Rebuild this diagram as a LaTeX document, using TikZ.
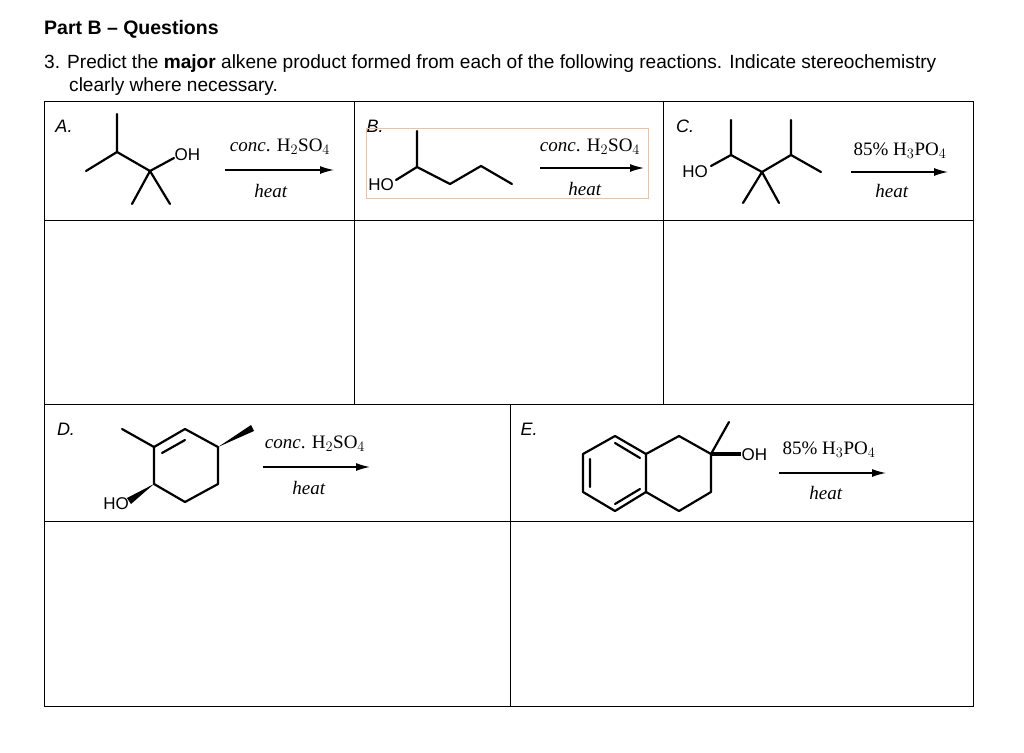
\documentclass[tikz,border=0pt]{standalone}
\usepackage{fontspec}
\setmainfont{Liberation Sans}
\newfontfamily\serfam{Liberation Serif}
\usetikzlibrary{arrows.meta}
\begin{document}
\begin{tikzpicture}[x=1pt,y=-1pt,
  bd/.style={line width=2.2pt,line cap=round,line join=round},
  grid/.style={line width=1pt},
  lab/.style={font=\fontsize{18}{20}\selectfont\itshape},
  atom/.style={font=\fontsize{17}{19}\selectfont,inner sep=0.5pt},
  reag/.style={font=\fontsize{19}{21}\selectfont\serfam},
  arr/.style={line width=1.4pt,-{Latex[length=14pt,width=8pt]}}]
\useasboundingbox (0,0) rectangle (1024,752);
\node[anchor=west,inner sep=0pt,font=\fontsize{19.5}{22}\selectfont\bfseries] (t1) at (44,29) {Part B -- Questions};
\node[anchor=west,inner sep=0pt,font=\fontsize{19.1}{22}\selectfont] (t2) at (44,64) {3. Predict the \textbf{major} alkene product formed from each of the following reactions. Indicate stereochemistry};
\node[anchor=west,inner sep=0pt,font=\fontsize{19.1}{22}\selectfont] (t3) at (69,87) {clearly where necessary.};
% grid
\draw[grid] (44,101) rectangle (973,706);
\draw[grid] (44,220)--(973,220) (44,404)--(973,404) (44,521)--(973,521);
\draw[grid] (354,101)--(354,404) (663,101)--(663,404) (510,404)--(510,706);
% labels
\node[lab] (la) at (64,126) {A.};
\node[lab] (lb) at (375,126) {B.};
\node[lab] (lc) at (685,126) {C.};
\node[lab] (ld) at (66,429) {D.};
\node[lab] (le) at (529,429) {E.};
% A
\draw[bd] (117,114)--(117,152)--(86,171) (117,152)--(150,171)--(174,158) (132,204)--(150,171)--(170,204);
\node[atom,anchor=west] (ohA) at (174,155) {OH};
\draw[arr] (225,170)--(334,170);
\node[reag] (rA1) at (280,147) {\textit{conc}. H$_2$SO$_4$};
\node[reag] (rA2) at (271,191) {\textit{heat}};
% B
\draw[line width=0.8pt,draw={rgb,255:red,240;green,190;blue,160}] (366,128) rectangle (648,198);
\draw[bd] (417,131)--(417,167)--(450,184)--(481,166)--(512,184) (417,167)--(396,180);
\node[atom] (hoB) at (381,185) {HO};
\draw[arr] (540,168)--(644,168);
\node[reag] (rB1) at (590,147) {\textit{conc}. H$_2$SO$_4$};
\node[reag] (rB2) at (585,189) {\textit{heat}};
% C
\draw[bd] (731,120)--(731,155)--(762,172)--(791,155)--(791,120) (791,155)--(821,172) (743,203)--(762,172)--(779,203) (731,155)--(711,166);
\node[atom] (hoC) at (695,172) {HO};
\draw[arr] (851,172)--(948,172);
\node[reag] (rC1) at (900,151) {85\% H$_3$PO$_4$};
\node[reag] (rC2) at (892,191) {\textit{heat}};
% D
\draw[bd] (154,447)--(185,429)--(218,447)--(218,484)--(185,502)--(154,484)--cycle;
\draw[bd] (122,429)--(154,447);
\draw[bd] (162,453)--(185,440);
\fill (218,447)--(251,425)--(254,431)--cycle;
\fill (154,484)--(127,498)--(131,504)--cycle;
\node[atom] (hoD) at (116,504) {HO};
\draw[arr] (263,467)--(370,467);
\node[reag] (rD1) at (315,444) {\textit{conc}. H$_2$SO$_4$};
\node[reag] (rD2) at (309,488) {\textit{heat}};
% E
\draw[bd] (583,454)--(615,436)--(646,454)--(646,492)--(615,511)--(583,492)--cycle;
\draw[bd] (646,454)--(679,436)--(711,454)--(711,492)--(679,511)--(646,492);
\draw[bd] (590,459)--(590,487) (615,443)--(640,458) (615,504)--(640,489);
\draw[bd] (711,454)--(729,422);
\draw[line width=4pt] (711,454)--(741,454);
\node[atom,anchor=west] (ohE) at (741,455) {OH};
\draw[arr] (779,473)--(886,473);
\node[reag] (rE1) at (829,450) {85\% H$_3$PO$_4$};
\node[reag] (rE2) at (826,493) {\textit{heat}};
\end{tikzpicture}
\end{document}
